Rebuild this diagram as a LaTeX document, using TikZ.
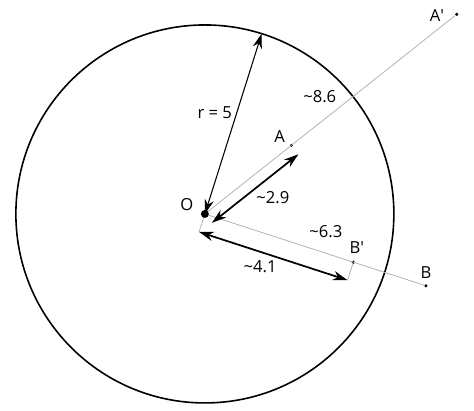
\documentclass[tikz,border=0pt]{standalone}
\usepackage{fontspec}
\setmainfont{Open Sans}
\usepackage{tikz}
\usetikzlibrary{calc}
\usetikzlibrary{positioning}
\usetikzlibrary{arrows.meta}

\begin{document}
\begin{tikzpicture}[<->,>={Stealth[length=11pt,width=7pt]},
	guide/.style={-,draw=black!30,line width=0.6pt},
	dim/.style={line width=1.3pt},
	pt/.style={circle,fill=black,inner sep=0pt,minimum size=2.6pt},
	lbl/.style={font=\fontsize{12.5}{15}\selectfont,inner sep=1pt}]
	
	\useasboundingbox (-5.42,-5.19) rectangle (7.12,5.66);
	
	\coordinate (O) at (0,0);
	\coordinate (R) at (72.5:5);
	\node[pt] (A) at (38.4:2.92) {};
	\node[pt] (Ap) at (38.4:8.5) {};
	\node[pt] (B) at (-18:6.15) {};
	\node[pt] (Bp) at (-18:4.13) {};
	
	\coordinate (a1) at ($(O)!0.3cm!-90:(A)$);
	\coordinate (a2) at ($(A)!0.3cm!90:(O)$);
	\coordinate (b1) at ($(O)!0.5cm!-90:(Bp)$);
	\coordinate (b2) at ($(Bp)!0.5cm!90:(O)$);
	
	\draw[-,line width=1.2pt] (O) circle (5);
	
	\draw[guide] (O) -- (Ap);
	\draw[guide] (O) -- (B);
	\draw[guide] (O) -- (b1);
	\draw[guide] (Bp) -- (b2);
	
	\draw[line width=0.8pt] (O) -- (R);
	\draw[dim] (a1) -- (a2);
	\draw[dim] (b1) -- (b2);
	
	\node[-,circle,fill=black,inner sep=0pt,minimum size=6pt] (Odot) at (O) {};
	
	\node[lbl] (lo) at (-0.48,0.24) {O};
	\node[lbl] (lr) at (0.26,2.67) {r = 5};
	\node[lbl] (l86) at (3.04,3.10) {\textasciitilde 8.6};
	\node[lbl] (la) at (1.98,2.04) {A};
	\node[lbl] (lap) at (6.14,5.26) {A\char"2032};
	\node[lbl] (l29) at (1.80,0.42) {\textasciitilde 2.9};
	\node[lbl] (l63) at (3.20,-0.48) {\textasciitilde 6.3};
	\node[lbl] (lbp) at (4.02,-0.90) {B\char"2032};
	\node[lbl] (lb) at (5.85,-1.56) {B};
	\node[lbl] (l41) at (1.46,-1.40) {\textasciitilde 4.1};
\end{tikzpicture}
\end{document}
